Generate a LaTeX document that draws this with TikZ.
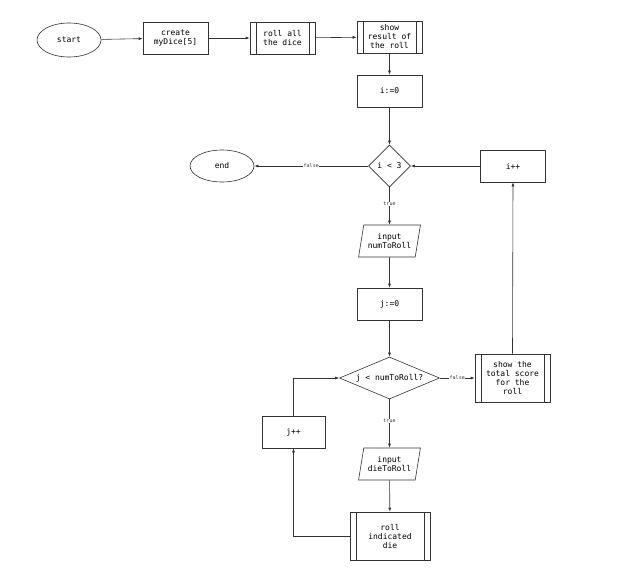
\documentclass[tikz,border=0pt]{standalone}
\usepackage{fontspec}
\setmainfont{DejaVu Sans Mono}
\usetikzlibrary{shapes.geometric,shapes.multipart,arrows.meta}
\begin{document}
\begin{tikzpicture}[x=1pt,y=-1pt,
  every node/.style={font=\fontsize{8}{9}\selectfont,align=center,draw=black!80,line width=0.6pt,inner sep=1pt},
  box/.style={rectangle,minimum width=65pt,minimum height=32pt},
  sub/.style={box,path picture={\draw[black!80,line width=0.6pt]
     ([xshift=6pt]path picture bounding box.north west)--([xshift=6pt]path picture bounding box.south west)
     ([xshift=-6pt]path picture bounding box.north east)--([xshift=-6pt]path picture bounding box.south east);}},
  term/.style={ellipse,minimum width=64pt,minimum height=34pt},
  dec/.style={diamond,aspect=1,minimum width=42pt,minimum height=42pt,inner sep=0pt},
  io/.style={trapezium,trapezium left angle=75,trapezium right angle=105,minimum height=32pt,minimum width=62pt,trapezium stretches=true},
  lab/.style={draw=none,fill=white,font=\fontsize{5}{6}\selectfont,inner sep=0.5pt},
  ar/.style={-{Latex[length=4pt,width=3pt]},black!80,line width=0.6pt}]
\useasboundingbox (0,0) rectangle (622,581);
\node[term] (start) at (69,40) {start};
\node[box] (create) at (175.5,38) {create\\myDice[5]};
\node[sub] (rollall) at (282.5,38) {roll all\\the dice};
\node[sub] (show) at (389.5,37) {show\\result of\\the roll};
\node[box] (i0) at (389.5,91) {i:=0};
\node[dec] (ilt) at (389.5,166) {i < 3};
\node[term,minimum height=32pt] (end) at (222,166) {end};
\node[box] (ipp) at (513,166) {i++};
\node[io] (inum) at (389.5,241) {input\\numToRoll};
\node[box] (j0) at (389.5,304) {j:=0};
\node[dec,aspect=2.4,minimum width=100pt] (jlt) at (389.5,378) {j < numToRoll?};
\node[sub,minimum width=75pt,minimum height=48pt] (total) at (512.5,378) {show the\\total score\\for the\\roll};
\node[box,minimum width=63pt] (jpp) at (293.5,432) {j++};
\node[io] (idie) at (389.5,464) {input\\dieToRoll};
\node[sub,minimum width=80pt,minimum height=48pt] (rollind) at (390,536) {roll\\indicated\\die};
\draw[ar] (start) -- (create);
\draw[ar] (create) -- (rollall);
\draw[ar] (rollall) -- (show);
\draw[ar] (show) -- (i0);
\draw[ar] (i0) -- (ilt);
\draw[ar] (ilt) -- node[lab]{false} (end);
\draw[ar] (ilt) -- node[lab,pos=0.45]{true} (inum);
\draw[ar] (inum) -- (j0);
\draw[ar] (j0) -- (jlt);
\draw[ar] (jlt) -- node[lab]{false} (total);
\draw[ar] (jlt) -- node[lab,pos=0.45]{true} (idie);
\draw[ar] (idie) -- (rollind);
\draw[ar] (rollind.west) -| (jpp.south);
\draw[ar] (jpp.north) |- (jlt.west);
\draw[ar] (total.north) -- (ipp.south);
\draw[ar] (ipp) -- (ilt);
\end{tikzpicture}
\end{document}
